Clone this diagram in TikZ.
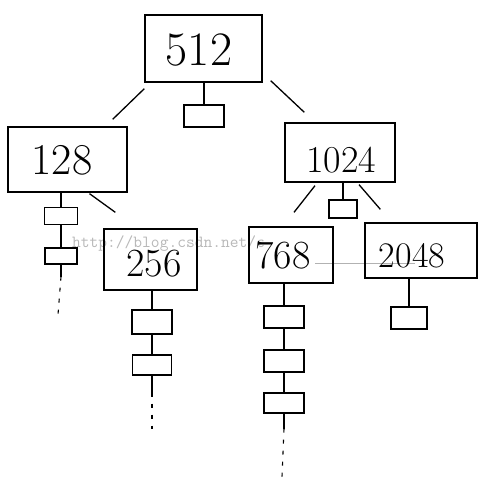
\documentclass[tikz,border=0pt]{standalone}
\usetikzlibrary{calc}
\begin{document}
\begin{tikzpicture}[x=1pt,y=-1pt,
  box/.style={draw,line width=1.3pt,inner sep=0pt,rectangle},
  num/.style={inner sep=0pt,font=\fontsize{#1}{#1}\selectfont},
  link/.style={line width=1.3pt},
  dots/.style={line width=1.1pt,dash pattern=on 4pt off 7pt},
  wm/.style={inner sep=0pt,anchor=west,text=black!28,font=\ttfamily\fontsize{17}{17}\selectfont}]
\useasboundingbox (0,0) rectangle (494,478);
% watermark
\node[wm] (wm) at (72,244) {http://blog.csdn.net/c};
\draw[black!30,line width=0.6pt] ($(wm.east)+(50,19)$) coordinate (wa) -- ++(100,0) coordinate (wb);
% main boxes
\node[box,minimum width=117,minimum height=67] (b512) at (203.5,48.5) {};
\node[box,minimum width=119,minimum height=65] (b128) at (67.5,159.5) {};
\node[box,minimum width=110,minimum height=59] (b1024) at (340,152.5) {};
\node[box,minimum width=93,minimum height=61] (b256) at (150.5,259.5) {};
\node[box,minimum width=84,minimum height=56] (b768) at (291,255) {};
\node[box,minimum width=112,minimum height=55] (b2048) at (421,250.5) {};
% numbers
\node[num=48] (t512) at (199,50) {512};
\node[num=44] (t128) at (62,160) {128};
\node[num=38] (t1024) at (341,160) {1024};
\node[num=40] (t256) at (154,264) {256};
\node[num=40] (t768) at (283,255) {768};
\node[num=36] (t2048) at (412,256) {2048};
% small boxes
\node[box,minimum width=40,minimum height=22] (s0) at (204,116) {};
\node[box,minimum width=33,minimum height=17] (s11) at (61,216) {};
\node[box,minimum width=32,minimum height=16] (s12) at (61,256) {};
\node[box,minimum width=40,minimum height=24] (s21) at (152,322) {};
\node[box,minimum width=39,minimum height=20] (s22) at (152,365) {};
\node[box,minimum width=40,minimum height=22] (s31) at (284,317) {};
\node[box,minimum width=40,minimum height=22] (s32) at (284,361) {};
\node[box,minimum width=40,minimum height=20] (s33) at (284,403) {};
\node[box,minimum width=36,minimum height=22] (s4) at (409,318) {};
\node[box,minimum width=28,minimum height=18] (s5) at (343,209) {};
% tree edges
\draw[link] ($(b512.south west)+(0,6)$) -- ($(b128.north east)+(-15,-7)$);
\draw[link] ($(b512.south east)+(8,-2)$) -- ($(b1024.north west)+(20,-10)$);
\draw[link] ($(b128.south)+(22,1)$) -- ($(b256.north west)+(12,-16)$);
\draw[link] ($(b1024.south)+(-25,3)$) -- ($(b768.north)+(3,-14)$);
\draw[link] ($(b1024.south)+(19,2)$) -- ($(b2048.north west)+(16,-13)$);
% chains
\draw[link] (b512.south -| s0.north) -- (s0.north);
\draw[link] (b1024.south -| s5.north) -- (s5.north);
\draw[link] (b128.south -| s11.north) -- (s11.north);
\draw[link] (s11.south) -- (s12.north);
\draw[link] (s12.south) -- ++(0,12) coordinate (e1);
\draw[dots] (e1) -- ++(-3,38);
\draw[link] (b256.south -| s21.north) -- (s21.north);
\draw[link] (s21.south) -- (s22.north);
\draw[link] (s22.south) -- ++(0,17) coordinate (e2);
\draw[dots] (e2) -- ++(0,36);
\draw[link] (b768.south -| s31.north) -- (s31.north);
\draw[link] (s31.south) -- (s32.north);
\draw[link] (s32.south) -- (s33.north);
\draw[link] (s33.south) -- ++(0,15) coordinate (e3);
\draw[dots] (e3) -- ++(-2,48);
\draw[link] (b2048.south -| s4.north) -- (s4.north);
\end{tikzpicture}
\end{document}
